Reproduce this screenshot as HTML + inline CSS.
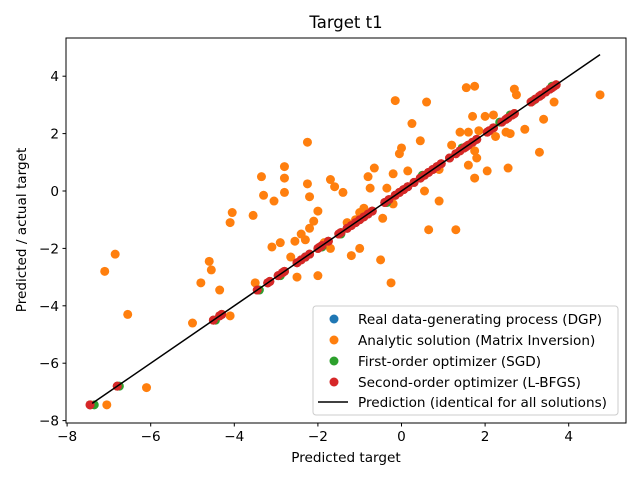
<!DOCTYPE html>
<html><head><meta charset="utf-8"><style>
body{margin:0;background:#fff}
svg{font-family:"DejaVu Sans","Liberation Sans",sans-serif}
</style></head><body>
<svg id="chart" width="640" height="480" xmlns="http://www.w3.org/2000/svg">
<rect width="640" height="480" fill="#fff"/>
<text x="346" y="28" font-size="16.5" text-anchor="middle">Target t1</text>
<g id="plot"></g>
<rect x="66" y="38" width="560" height="385" fill="none" stroke="#000" stroke-width="1"/>
<g id="axes"></g>
<text x="346" y="462" font-size="13.6" text-anchor="middle">Predicted target</text>
<text transform="translate(26,230) rotate(-90)" font-size="13.6" text-anchor="middle">Predicted / actual target</text>
<g>
<rect x="313" y="306" width="305" height="109" rx="3" fill="#fff" fill-opacity="0.8" stroke="#ccc"/>
<circle cx="334" cy="319" r="4.5" fill="#1f77b4"/><text x="358" y="324" font-size="13.6">Real data-generating process (DGP)</text>
<circle cx="334" cy="340" r="4.5" fill="#ff7f0e"/><text x="358" y="345" font-size="13.6">Analytic solution (Matrix Inversion)</text>
<circle cx="334" cy="361" r="4.5" fill="#2ca02c"/><text x="358" y="366" font-size="13.6">First-order optimizer (SGD)</text>
<circle cx="334" cy="382" r="4.5" fill="#d62728"/><text x="358" y="387" font-size="13.6">Second-order optimizer (L-BFGS)</text>
<line x1="318" y1="402" x2="348" y2="402" stroke="#000" stroke-width="1.5"/><text x="358" y="407" font-size="13.6">Prediction (identical for all solutions)</text>
</g>
</svg>
<script>
const xTicks=[-8,-6,-4,-2,0,2,4];
const yTicks=[-8,-6,-4,-2,0,2,4];
const orangeX=[-7.1,-6.85,-6.55,-7.05,-6.1,-5.0,-4.8,-4.6,-4.55,-4.35,-4.1,-4.05,-4.1,-3.55,-3.5,-3.35,-3.3,-3.1,-3.05,-2.9,-2.8,-2.8,-2.8,-2.65,-2.55,-2.5,-2.4,-2.3,-2.25,-2.25,-2.2,-2.2,-2.1,-2.0,-2.0,-1.85,-1.7,-1.7,-1.6,-1.4,-1.3,-1.2,-1.1,-1.0,-1.0,-0.9,-0.8,-0.75,-0.65,-0.5,-0.45,-0.35,-0.25,-0.2,-0.2,-0.15,-0.05,0.0,0.15,0.25,0.45,0.55,0.6,0.65,0.9,0.9,1.2,1.3,1.4,1.55,1.6,1.6,1.7,1.75,1.75,1.75,1.8,1.85,2.0,2.05,2.2,2.25,2.5,2.55,2.6,2.7,2.75,2.95,3.3,3.4,3.65,4.75];
const orangeY=[-2.8,-2.2,-4.3,-7.45,-6.85,-4.6,-3.2,-2.45,-2.75,-3.45,-1.1,-0.75,-4.35,-0.85,-3.2,0.5,-0.15,-1.95,-0.35,-1.8,0.85,0.45,-0.05,-2.3,-1.75,-3.0,-1.5,-1.7,1.7,0.25,-0.2,-1.3,-1.05,-0.7,-2.95,-1.8,0.4,-2.0,0.15,-0.05,-1.1,-2.25,-1.0,-2.0,-0.75,-0.6,0.5,0.1,0.8,-2.4,-0.95,0.1,-3.2,-0.45,0.6,3.15,1.3,1.5,0.7,2.35,1.75,0.0,3.1,-1.35,0.75,-0.35,1.6,-1.35,2.05,3.6,2.05,0.9,2.6,3.65,1.4,0.45,1.15,2.1,2.6,0.7,2.65,1.9,2.05,0.8,2.0,3.55,3.35,2.15,1.35,2.5,3.1,3.35];
const fitX=[-7.45,-6.8,-4.5,-4.35,-4.3,-3.45,-3.2,-3.15,-2.95,-2.85,-2.8,-2.5,-2.4,-2.3,-2.2,-2.0,-1.95,-1.9,-1.75,-1.5,-1.45,-1.3,-1.2,-1.1,-1.0,-0.9,-0.8,-0.7,-0.4,-0.3,-0.15,-0.05,0.05,0.15,0.3,0.45,0.55,0.65,0.75,0.85,0.95,1.15,1.3,1.4,1.5,1.55,1.6,1.7,1.8,2.05,2.1,2.2,2.4,2.5,2.55,2.65,2.7,3.1,3.2,3.3,3.35,3.45,3.55,3.6,3.65,3.7];
const fitY=fitX.slice();
const sgdX=[-7.35,-6.75,-4.45,-3.4,-2.9,-2.3,-1.9,-1.45,-0.35,0.5,1.45,2.35,2.6,3.15,3.6];
const sgdY=[-7.45,-6.8,-4.5,-3.45,-2.95,-2.3,-1.95,-1.5,-0.4,0.55,1.5,2.4,2.65,3.15,3.65];
const lineX=[-7.4,4.75];
const lineY=[-7.4,4.75];
const X=v=>401.5+v*41.8;
const Y=v=>191-v*28.7;
const NS='http://www.w3.org/2000/svg';
const plot=document.getElementById('plot');
const axes=document.getElementById('axes');
function mk(tag,attrs,parent){const e=document.createElementNS(NS,tag);for(const k in attrs)e.setAttribute(k,attrs[k]);parent.appendChild(e);return e;}
xTicks.forEach(t=>{
  const l=mk('line',{x1:X(t),x2:X(t),y1:423,y2:426.5,stroke:'#000'},axes);
  
  
  const tx=mk('text',{x:X(t),y:441,'font-size':13.6,'text-anchor':'middle'},axes);
  tx.textContent=String(t).replace('-','\u2212');
  
  
});
yTicks.forEach(t=>{
  const l=mk('line',{x1:62.5,x2:66,y1:Y(t),y2:Y(t),stroke:'#000'},axes);
  
  
  const tx=mk('text',{x:59,y:Y(t)+5,'font-size':13.6,'text-anchor':'end'},axes);
  tx.textContent=String(t).replace('-','\u2212');
  
  
});
function dots(xs,ys,color,name){xs.forEach((x,i)=>{
  const c=mk('circle',{cx:X(x),cy:Y(ys[i]),r:4.5,fill:color},plot);
  
  
});}
dots(fitX,fitY,'#1f77b4','dgp-point');
dots(orangeX,orangeY,'#ff7f0e','analytic-point');
dots(fitX,fitY,'#ff7f0e','analytic-point');
dots(sgdX,sgdY,'#2ca02c','sgd-point');
dots(fitX,fitY,'#d62728','lbfgs-point');
const pl=mk('line',{x1:X(lineX[0]),y1:Y(lineY[0]),x2:X(lineX[1]),y2:Y(lineY[1]),stroke:'#000','stroke-width':1.5},plot);


</script>
</body></html>
